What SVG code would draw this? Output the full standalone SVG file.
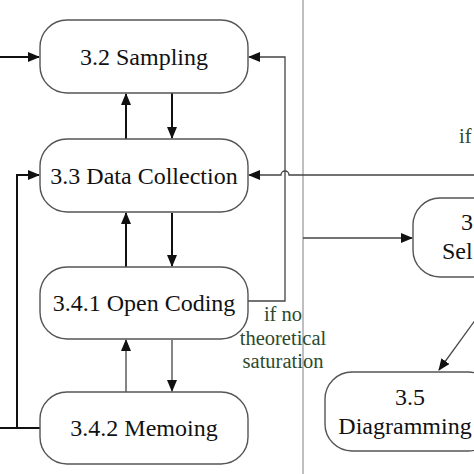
<svg xmlns="http://www.w3.org/2000/svg" width="474" height="474" viewBox="0 0 474 474">
<defs>
<style>
.box{fill:#fff;stroke:#555;stroke-width:1.4}
.lbl{font-family:"Liberation Serif","Times New Roman",serif;font-size:24px;fill:#111;text-anchor:middle}
.note{font-family:"Liberation Serif","Times New Roman",serif;font-size:20.5px;fill:#2d4a2d;text-anchor:middle}
.bold{fill:none;stroke:#111;stroke-width:2}
.thin{fill:none;stroke:#444;stroke-width:1.3}
.sep{fill:none;stroke:#aaa;stroke-width:1.5}
</style>
<marker id="ah" markerUnits="userSpaceOnUse" markerWidth="12" markerHeight="12" viewBox="0 0 12 12" refX="11" refY="6" orient="auto">
<path d="M0,1 L12,6 L0,11 Z" fill="#111"/>
</marker>
</defs>
<rect width="474" height="474" fill="#fff"/>
<line class="sep" x1="303" y1="0" x2="303" y2="474"/>
<g id="connectors">
<line class="bold" x1="0" y1="57" x2="39" y2="57" marker-end="url(#ah)"/>
<line class="bold" x1="126" y1="139" x2="126" y2="94" marker-end="url(#ah)"/>
<line class="bold" x1="172" y1="93" x2="172" y2="138" marker-end="url(#ah)"/>
<line class="bold" x1="126" y1="267" x2="126" y2="213" marker-end="url(#ah)"/>
<line class="bold" x1="172" y1="213" x2="172" y2="266" marker-end="url(#ah)"/>
<line class="thin" x1="126" y1="392" x2="126" y2="340" marker-end="url(#ah)"/>
<line class="thin" x1="172" y1="340" x2="172" y2="391" marker-end="url(#ah)"/>
<polyline class="bold" points="0,428 40,428"/>
<polyline class="bold" points="17,428 17,175 39,175" marker-end="url(#ah)"/>
<polyline class="thin" points="248,301 285,301 285,57 249,57" marker-end="url(#ah)"/>
<path class="thin" d="M474,175 L289,175 A4,4 0 0 0 281,175 L249,175" marker-end="url(#ah)"/>
<polyline class="thin" points="303,238 412,238" marker-end="url(#ah)"/>
<line class="thin" x1="476" y1="319" x2="439" y2="370" marker-end="url(#ah)"/>
</g>
<g id="n32"><rect class="box" x="40" y="20" width="208" height="73" rx="27"/><text class="lbl" x="144" y="65">3.2 Sampling</text></g>
<g id="n33"><rect class="box" x="40" y="139" width="208" height="73" rx="27"/><text class="lbl" x="144" y="184">3.3 Data Collection</text></g>
<g id="n341"><rect class="box" x="40" y="267" width="208" height="72" rx="27"/><text class="lbl" x="144" y="311">3.4.1 Open Coding</text></g>
<g id="n342"><rect class="box" x="40" y="392" width="208" height="72" rx="27"/><text class="lbl" x="144" y="436">3.4.2 Memoing</text></g>
<g id="nsel"><rect class="box" x="413" y="198" width="120" height="79" rx="27"/><text class="lbl" x="461" y="230" style="text-anchor:start">3</text><text class="lbl" x="442" y="259" style="text-anchor:start">Sel</text></g>
<g id="n35"><rect class="box" x="325" y="372" width="170" height="79" rx="27"/><text class="lbl" x="410" y="405">3.5</text><text class="lbl" x="405" y="434">Diagramming</text></g>
<g id="notes">
<text class="note" x="283" y="321">if no</text>
<text class="note" x="283" y="345">theoretical</text>
<text class="note" x="283" y="368">saturation</text>
<text class="note" x="459" y="143" style="text-anchor:start">if</text>
</g>
</svg>
